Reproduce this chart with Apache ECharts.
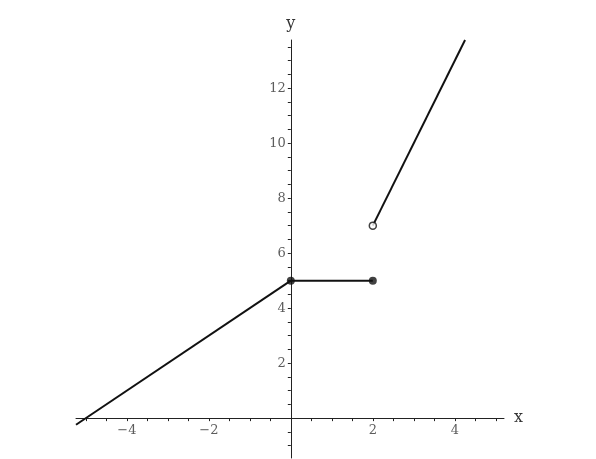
<!DOCTYPE html>
<html><head><meta charset="utf-8">
<script src="https://cdn.jsdelivr.net/npm/echarts@6/dist/echarts.min.js"></script>
<style>html,body{margin:0;padding:0;background:#fff}#c{width:596px;height:459px}</style>
</head><body><div id="c"></div>
<script>
const piece1 = [[-5.24, -0.24], [0, 5]];
const piece2 = [[0, 5], [2, 5]];
const piece3 = [[2, 7], [4.25, 13.75]];
const closedPts = [[0, 5], [2, 5]];
const openPts = [[2, 7]];
const xLabels = [-4, -2, 2, 4];
const yLabels = [2, 4, 6, 8, 10, 12];
const xTicks = []; for (let v = -5; v <= 5; v += 0.5) if (v !== 0) xTicks.push(v);
const yTicks = []; for (let v = -1; v <= 13.5; v += 0.5) if (v !== 0) yTicks.push(v);
const font = {fontFamily: 'DejaVu Serif', fontSize: 13, color: '#333'};
const chart = echarts.init(document.getElementById('c'));
chart.setOption({
  animation: false,
  grid: {left: 76, right: 92, top: 40, bottom: 1, outerBoundsMode: 'none', containLabel: false},
  xAxis: {type: 'value', min: -5.24, max: 5.2, name: 'x', nameGap: 10,
    nameTextStyle: Object.assign({}, font, {fontSize: 16}),
    axisLine: {onZero: true, lineStyle: {color: '#222'}},
    axisTick: {show: true, customValues: xTicks, length: 3, lineStyle: {color: '#222'}},
    axisLabel: {show: false},
    splitLine: {show: false}},
  yAxis: {type: 'value', min: -1.45, max: 13.75, name: 'y', nameGap: 8,
    nameTextStyle: Object.assign({}, font, {fontSize: 16}),
    axisLine: {onZero: true, lineStyle: {color: '#222'}},
    axisTick: {show: true, customValues: yTicks, length: 3, lineStyle: {color: '#222'}},
    axisLabel: {show: false},
    splitLine: {show: false}},
  series: [
    {type: 'line', data: piece1, symbol: 'none', lineStyle: {color: '#111', width: 2}},
    {type: 'line', data: piece2, symbol: 'none', lineStyle: {color: '#111', width: 2}},
    {type: 'line', data: piece3, symbol: 'none', lineStyle: {color: '#111', width: 2}},
    {type: 'scatter', data: closedPts, symbolSize: 8, itemStyle: {color: '#111'}, z: 5},
    {type: 'scatter', data: openPts, symbolSize: 7, itemStyle: {color: '#fff', borderColor: '#111', borderWidth: 1.5}, z: 5},
    {type: 'scatter', data: xLabels.map(v => [v, 0]), symbolSize: 0, silent: true,
      label: Object.assign({show: true, position: 'bottom', distance: 6, formatter: p => p.value[0] < 0 ? '\u2212' + (-p.value[0]) : '' + p.value[0]}, font)},
    {type: 'scatter', data: yLabels.map(v => [0, v]), symbolSize: 0, silent: true,
      label: Object.assign({show: true, position: 'left', distance: 5, formatter: p => '' + p.value[1]}, font)}
  ]
});
</script></body></html>
